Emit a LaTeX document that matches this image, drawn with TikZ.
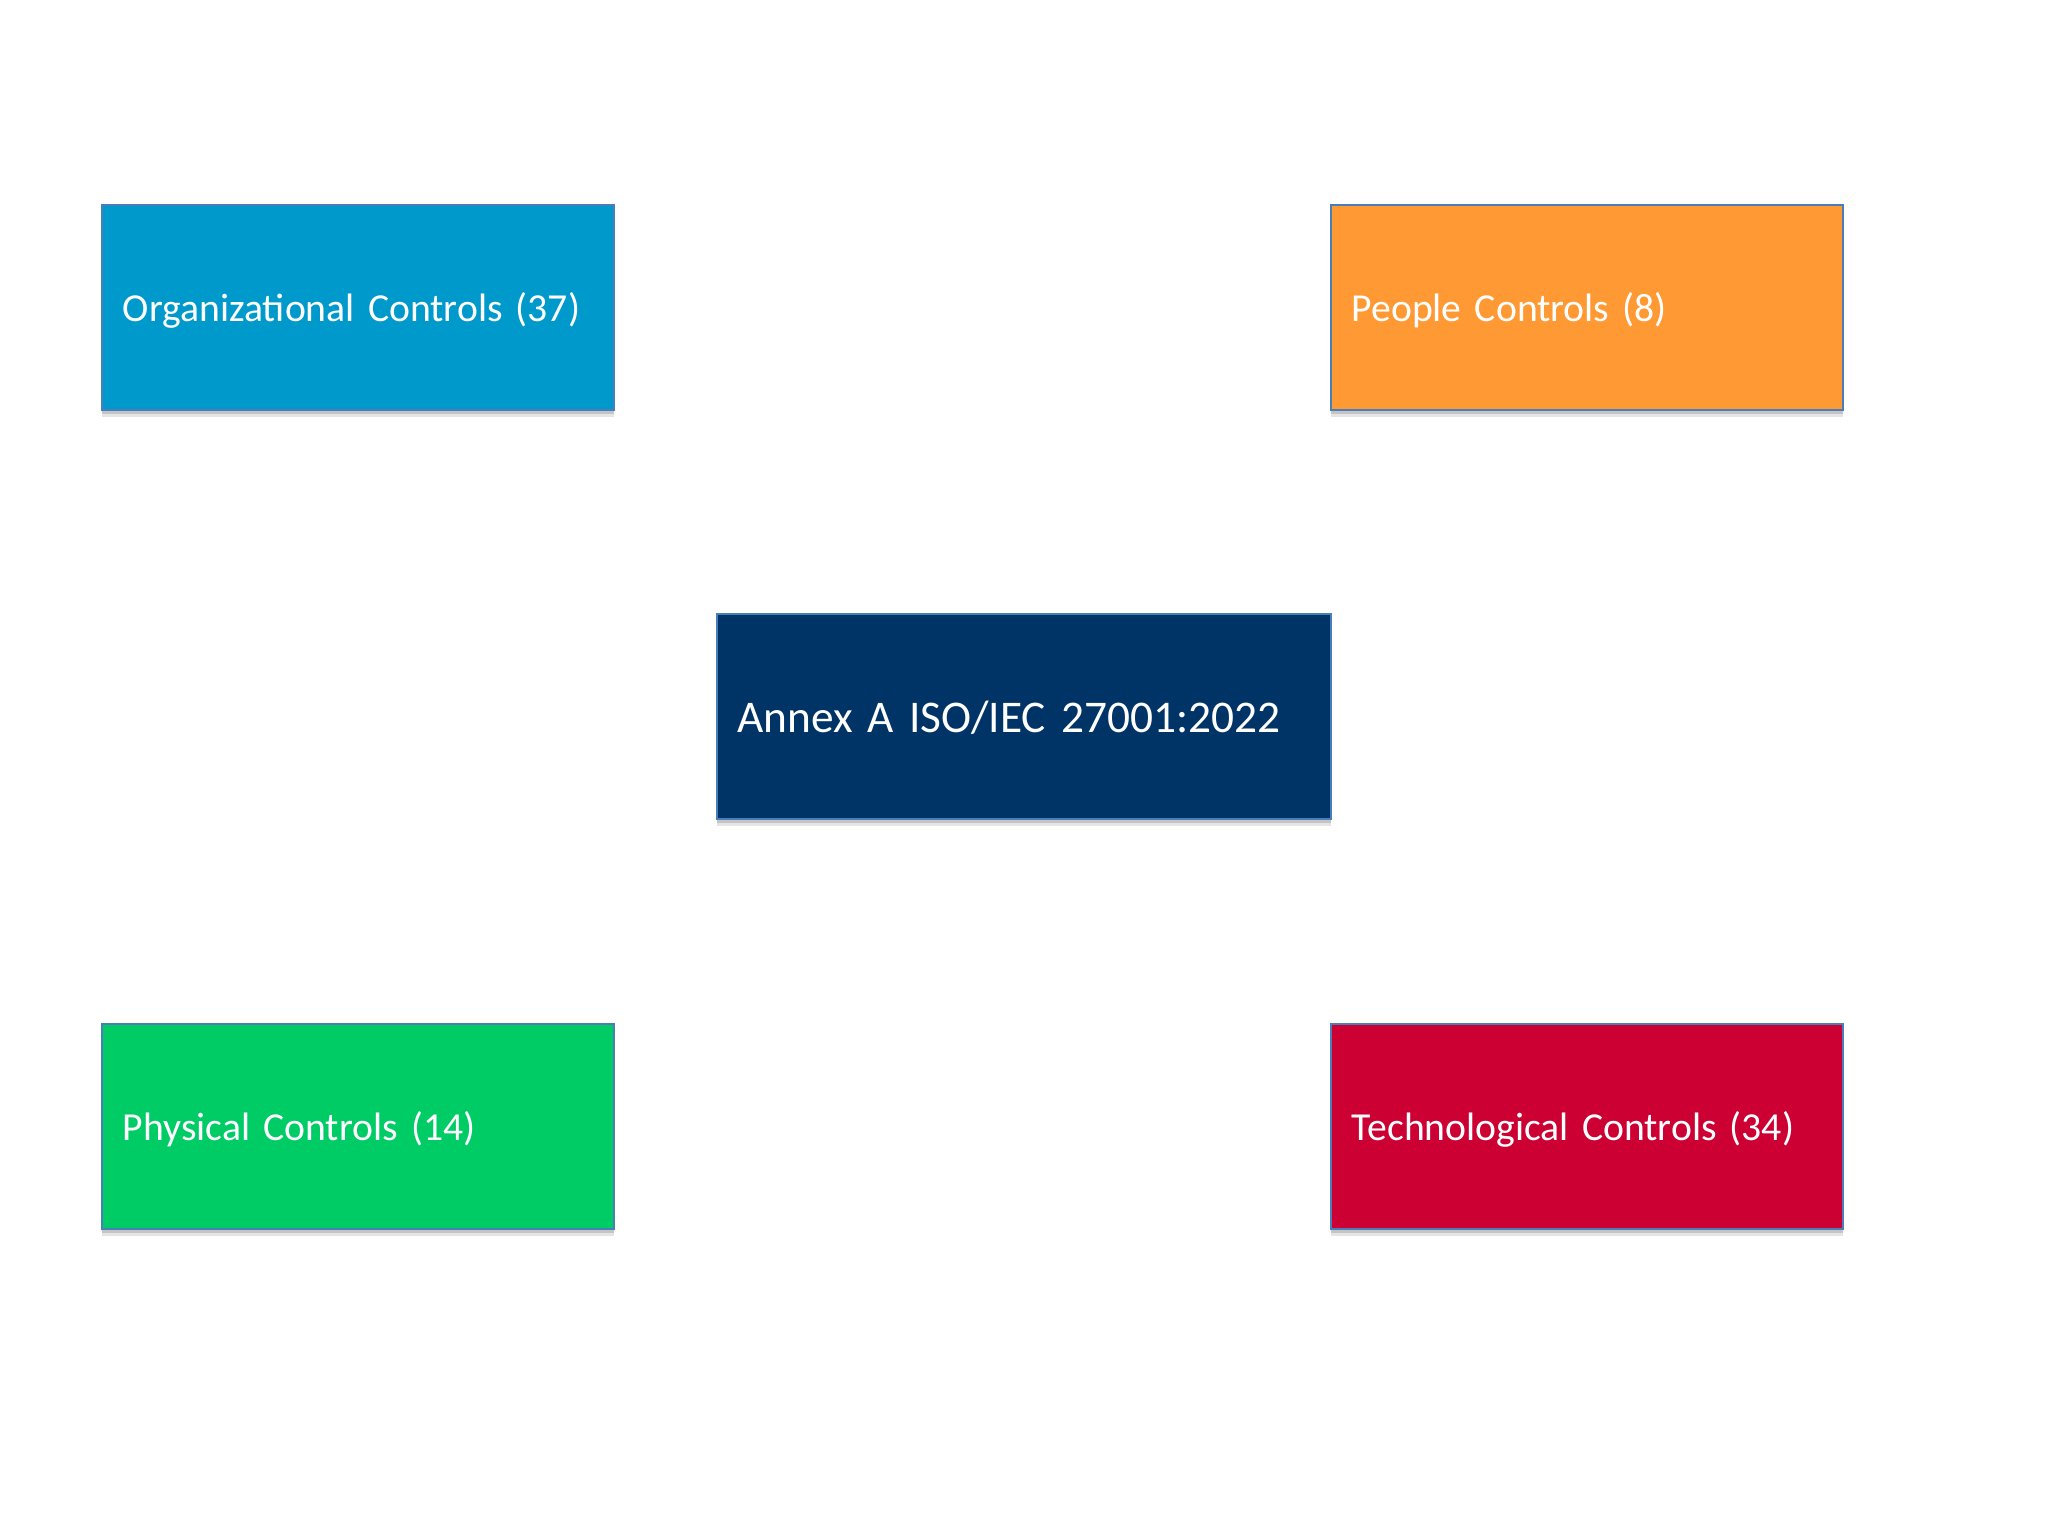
\documentclass[tikz,border=0pt]{standalone}
\usepackage{fontspec}
\setmainfont{Carlito}
\usetikzlibrary{shadows}
\definecolor{orgc}{HTML}{0099CC}
\definecolor{peoc}{HTML}{FF9933}
\definecolor{annc}{HTML}{003366}
\definecolor{phyc}{HTML}{00CC66}
\definecolor{tecc}{HTML}{CC0033}
\definecolor{edgec}{HTML}{4A7EBB}
\DeclareRobustCommand\ctrlfont{\fontsize{14}{17}\selectfont\spaceskip=0.2em\relax}
\DeclareRobustCommand\annexfont{\fontsize{16}{19}\selectfont\spaceskip=0.2em\relax}
\tikzset{
  ctrlbox/.style={rectangle, draw=edgec, line width=0.75pt, text=white,
    minimum width=2.5in, minimum height=1in, inner xsep=0.1in, inner ysep=0pt,
    text width=2.3in, text depth=0pt, align=left, font=\ctrlfont,
    drop shadow={shadow xshift=0pt, shadow yshift=-0.035in, fill=black, opacity=0.10},
    drop shadow={shadow xshift=0pt, shadow yshift=-0.02in, fill=black, opacity=0.14}},
  annexbox/.style={ctrlbox, minimum width=3in, text width=2.8in, font=\annexfont}
}
\begin{document}
\begin{tikzpicture}[x=1in,y=1in]
\useasboundingbox[fill=white] (0,0) rectangle (10,7.5);
\node[ctrlbox, fill=orgc] (org) at (1.75,6.0) {Organizational Controls (37)};
\node[ctrlbox, fill=peoc] (peo) at (7.75,6.0) {People Controls (8)};
\node[annexbox, fill=annc] (ann) at (5.0,4.0) {Annex A ISO/IEC 27001:2022};
\node[ctrlbox, fill=phyc] (phy) at (1.75,2.0) {Physical Controls (14)};
\node[ctrlbox, fill=tecc] (tec) at (7.75,2.0) {Technological Controls (34)};
\end{tikzpicture}
\end{document}
